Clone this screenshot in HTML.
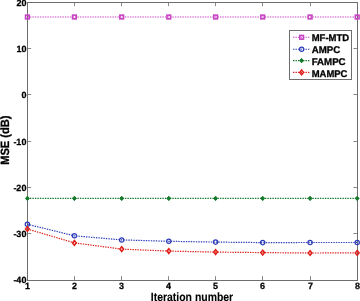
<!DOCTYPE html>
<html><head><meta charset="utf-8"><style>
html,body{margin:0;padding:0;background:#fff;}
svg{display:block;}
text{text-rendering:geometricPrecision;}
.t{font-family:"Liberation Sans",Arial,sans-serif;font-weight:bold;font-size:9px;fill:#000;stroke:#000;stroke-width:0.25px;}
.lg{font-family:"Liberation Sans",Arial,sans-serif;font-weight:bold;font-size:9.7px;fill:#000;stroke:#000;stroke-width:0.3px;}
.xl{font-family:"Liberation Sans",Arial,sans-serif;font-weight:bold;font-size:11.5px;fill:#000;stroke:#000;stroke-width:0.3px;}
</style></head><body>
<svg width="360" height="301" viewBox="0 0 360 301">
<rect width="360" height="301" fill="#fff"/>
<rect x="27.5" y="2.5" width="330" height="278" fill="none" stroke="#6e6e6e" stroke-width="1"/>
<line x1="74.5" y1="3" x2="74.5" y2="6.2" stroke="#888888"/>
<line x1="74.5" y1="280" x2="74.5" y2="276.2" stroke="#888888"/>
<line x1="121.5" y1="3" x2="121.5" y2="6.2" stroke="#888888"/>
<line x1="121.5" y1="280" x2="121.5" y2="276.2" stroke="#888888"/>
<line x1="168.5" y1="3" x2="168.5" y2="6.2" stroke="#888888"/>
<line x1="168.5" y1="280" x2="168.5" y2="276.2" stroke="#888888"/>
<line x1="215.5" y1="3" x2="215.5" y2="6.2" stroke="#888888"/>
<line x1="215.5" y1="280" x2="215.5" y2="276.2" stroke="#888888"/>
<line x1="262.5" y1="3" x2="262.5" y2="6.2" stroke="#888888"/>
<line x1="262.5" y1="280" x2="262.5" y2="276.2" stroke="#888888"/>
<line x1="310.5" y1="3" x2="310.5" y2="6.2" stroke="#888888"/>
<line x1="310.5" y1="280" x2="310.5" y2="276.2" stroke="#888888"/>
<line x1="28" y1="48.5" x2="31.2" y2="48.5" stroke="#888888"/>
<line x1="357" y1="48.5" x2="353.4" y2="48.5" stroke="#888888"/>
<line x1="28" y1="94.5" x2="31.2" y2="94.5" stroke="#888888"/>
<line x1="357" y1="94.5" x2="353.4" y2="94.5" stroke="#888888"/>
<line x1="28" y1="141.5" x2="31.2" y2="141.5" stroke="#888888"/>
<line x1="357" y1="141.5" x2="353.4" y2="141.5" stroke="#888888"/>
<line x1="28" y1="187.5" x2="31.2" y2="187.5" stroke="#888888"/>
<line x1="357" y1="187.5" x2="353.4" y2="187.5" stroke="#888888"/>
<line x1="28" y1="233.5" x2="31.2" y2="233.5" stroke="#888888"/>
<line x1="357" y1="233.5" x2="353.4" y2="233.5" stroke="#888888"/>
<text x="27.5" y="289" class="t" text-anchor="middle">1</text>
<text x="74.5" y="289" class="t" text-anchor="middle">2</text>
<text x="121.5" y="289" class="t" text-anchor="middle">3</text>
<text x="168.5" y="289" class="t" text-anchor="middle">4</text>
<text x="215.5" y="289" class="t" text-anchor="middle">5</text>
<text x="262.5" y="289" class="t" text-anchor="middle">6</text>
<text x="310.5" y="289" class="t" text-anchor="middle">7</text>
<text x="357.5" y="289" class="t" text-anchor="middle">8</text>
<text x="26.4" y="5.8" class="t" text-anchor="end">20</text>
<text x="26.4" y="51.8" class="t" text-anchor="end">10</text>
<text x="26.4" y="97.8" class="t" text-anchor="end">0</text>
<text x="26.4" y="144.8" class="t" text-anchor="end">-10</text>
<text x="26.4" y="190.8" class="t" text-anchor="end">-20</text>
<text x="26.4" y="236.8" class="t" text-anchor="end">-30</text>
<text x="26.4" y="283.1" class="t" text-anchor="end">-40</text>
<polyline points="27.40,17.00 74.40,17.00 121.70,17.00 168.80,17.00 215.60,17.00 262.70,17.00 310.10,17.00 357.20,17.00" fill="none" stroke="#c843c4" stroke-width="1.2" stroke-dasharray="1.4 1.1"/>
<polyline points="27.40,224.30 74.40,235.80 121.70,239.90 168.80,241.30 215.60,242.10 262.70,242.60 310.10,242.50 357.20,242.50" fill="none" stroke="#2c3cb8" stroke-width="1.2" stroke-dasharray="1.4 1.1"/>
<polyline points="27.40,198.40 74.40,198.40 121.70,198.40 168.80,198.40 215.60,198.40 262.70,198.40 310.10,198.40 357.20,198.40" fill="none" stroke="#137a2a" stroke-width="1.2" stroke-dasharray="1.4 1.1"/>
<polyline points="27.40,229.00 74.40,242.90 121.70,249.10 168.80,251.10 215.60,252.10 262.70,252.60 310.10,253.00 357.20,252.90" fill="none" stroke="#e0201c" stroke-width="1.2" stroke-dasharray="1.4 1.1"/>
<rect x="25.55" y="15.15" width="3.70" height="3.70" fill="none" stroke="#c843c4" stroke-width="1.6"/>
<rect x="72.55" y="15.15" width="3.70" height="3.70" fill="none" stroke="#c843c4" stroke-width="1.6"/>
<rect x="119.85" y="15.15" width="3.70" height="3.70" fill="none" stroke="#c843c4" stroke-width="1.6"/>
<rect x="166.95" y="15.15" width="3.70" height="3.70" fill="none" stroke="#c843c4" stroke-width="1.6"/>
<rect x="213.75" y="15.15" width="3.70" height="3.70" fill="none" stroke="#c843c4" stroke-width="1.6"/>
<rect x="260.85" y="15.15" width="3.70" height="3.70" fill="none" stroke="#c843c4" stroke-width="1.6"/>
<rect x="308.25" y="15.15" width="3.70" height="3.70" fill="none" stroke="#c843c4" stroke-width="1.6"/>
<rect x="355.35" y="15.15" width="3.70" height="3.70" fill="none" stroke="#c843c4" stroke-width="1.6"/>
<circle cx="27.40" cy="224.30" r="2.15" fill="none" stroke="#2c3cb8" stroke-width="1.25"/>
<circle cx="74.40" cy="235.80" r="2.15" fill="none" stroke="#2c3cb8" stroke-width="1.25"/>
<circle cx="121.70" cy="239.90" r="2.15" fill="none" stroke="#2c3cb8" stroke-width="1.25"/>
<circle cx="168.80" cy="241.30" r="2.15" fill="none" stroke="#2c3cb8" stroke-width="1.25"/>
<circle cx="215.60" cy="242.10" r="2.15" fill="none" stroke="#2c3cb8" stroke-width="1.25"/>
<circle cx="262.70" cy="242.60" r="2.15" fill="none" stroke="#2c3cb8" stroke-width="1.25"/>
<circle cx="310.10" cy="242.50" r="2.15" fill="none" stroke="#2c3cb8" stroke-width="1.25"/>
<circle cx="357.20" cy="242.50" r="2.15" fill="none" stroke="#2c3cb8" stroke-width="1.25"/>
<polygon points="27.40,196.20 29.30,198.40 27.40,200.60 25.50,198.40" fill="#137a2a" stroke="#137a2a" stroke-width="1"/>
<polygon points="74.40,196.20 76.30,198.40 74.40,200.60 72.50,198.40" fill="#137a2a" stroke="#137a2a" stroke-width="1"/>
<polygon points="121.70,196.20 123.60,198.40 121.70,200.60 119.80,198.40" fill="#137a2a" stroke="#137a2a" stroke-width="1"/>
<polygon points="168.80,196.20 170.70,198.40 168.80,200.60 166.90,198.40" fill="#137a2a" stroke="#137a2a" stroke-width="1"/>
<polygon points="215.60,196.20 217.50,198.40 215.60,200.60 213.70,198.40" fill="#137a2a" stroke="#137a2a" stroke-width="1"/>
<polygon points="262.70,196.20 264.60,198.40 262.70,200.60 260.80,198.40" fill="#137a2a" stroke="#137a2a" stroke-width="1"/>
<polygon points="310.10,196.20 312.00,198.40 310.10,200.60 308.20,198.40" fill="#137a2a" stroke="#137a2a" stroke-width="1"/>
<polygon points="357.20,196.20 359.10,198.40 357.20,200.60 355.30,198.40" fill="#137a2a" stroke="#137a2a" stroke-width="1"/>
<polygon points="27.40,226.60 29.30,229.00 27.40,231.40 25.50,229.00" fill="none" stroke="#e0201c" stroke-width="1.5"/>
<polygon points="74.40,240.50 76.30,242.90 74.40,245.30 72.50,242.90" fill="none" stroke="#e0201c" stroke-width="1.5"/>
<polygon points="121.70,246.70 123.60,249.10 121.70,251.50 119.80,249.10" fill="none" stroke="#e0201c" stroke-width="1.5"/>
<polygon points="168.80,248.70 170.70,251.10 168.80,253.50 166.90,251.10" fill="none" stroke="#e0201c" stroke-width="1.5"/>
<polygon points="215.60,249.70 217.50,252.10 215.60,254.50 213.70,252.10" fill="none" stroke="#e0201c" stroke-width="1.5"/>
<polygon points="262.70,250.20 264.60,252.60 262.70,255.00 260.80,252.60" fill="none" stroke="#e0201c" stroke-width="1.5"/>
<polygon points="310.10,250.60 312.00,253.00 310.10,255.40 308.20,253.00" fill="none" stroke="#e0201c" stroke-width="1.5"/>
<polygon points="357.20,250.50 359.10,252.90 357.20,255.30 355.30,252.90" fill="none" stroke="#e0201c" stroke-width="1.5"/>
<text x="150.8" y="300.9" class="xl" style="font-size:12px;stroke-width:0.1px" textLength="82.4" lengthAdjust="spacingAndGlyphs">Iteration number</text>
<text transform="translate(8.9,164.8) rotate(-90)" x="0" y="0" class="xl" style="font-size:12px" textLength="49.2" lengthAdjust="spacingAndGlyphs">MSE (dB)</text>
<rect x="289.5" y="30.5" width="62" height="49" fill="#fff" stroke="#6e6e6e" stroke-width="1"/>
<line x1="293" y1="37.3" x2="309.5" y2="37.3" stroke="#c843c4" stroke-width="1.1" stroke-dasharray="1.4 1.1"/>
<rect x="299.75" y="35.45" width="3.70" height="3.70" fill="none" stroke="#c843c4" stroke-width="1.6"/>
<text x="311.7" y="40.9" class="lg" textLength="37.4" lengthAdjust="spacingAndGlyphs">MF-MTD</text>
<line x1="293" y1="49.2" x2="309.5" y2="49.2" stroke="#2c3cb8" stroke-width="1.1" stroke-dasharray="1.4 1.1"/>
<circle cx="301.60" cy="49.20" r="2.15" fill="none" stroke="#2c3cb8" stroke-width="1.25"/>
<text x="311.7" y="52.7" class="lg">AMPC</text>
<line x1="293" y1="60.6" x2="309.5" y2="60.6" stroke="#137a2a" stroke-width="1.1" stroke-dasharray="1.4 1.1"/>
<polygon points="301.60,58.40 303.50,60.60 301.60,62.80 299.70,60.60" fill="#137a2a" stroke="#137a2a" stroke-width="1"/>
<text x="311.7" y="64.7" class="lg">FAMPC</text>
<line x1="293" y1="72.4" x2="309.5" y2="72.4" stroke="#e0201c" stroke-width="1.1" stroke-dasharray="1.4 1.1"/>
<polygon points="301.60,70.00 303.50,72.40 301.60,74.80 299.70,72.40" fill="none" stroke="#e0201c" stroke-width="1.5"/>
<text x="311.7" y="76.6" class="lg" textLength="35.7" lengthAdjust="spacingAndGlyphs">MAMPC</text>
</svg>
</body></html>
